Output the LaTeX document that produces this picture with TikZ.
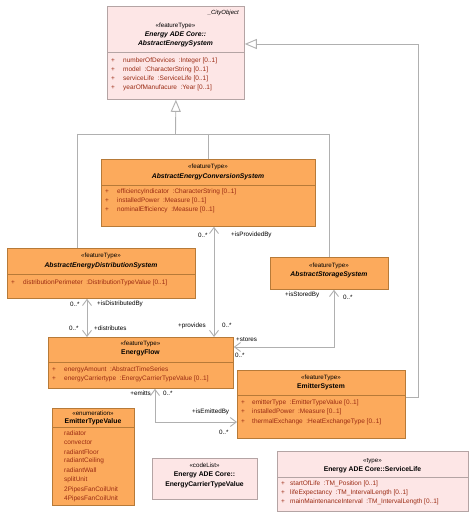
\documentclass[tikz,border=0pt]{standalone}
\usepackage{fontspec}
\setmainfont{Liberation Sans}
\usetikzlibrary{arrows.meta,calc}
\definecolor{pinkfill}{HTML}{FDE6E6}
\definecolor{pinkline}{HTML}{B4A4A4}
\definecolor{orfill}{HTML}{FCAA5C}
\definecolor{orline}{HTML}{B77A38}
\definecolor{attrcol}{HTML}{9A2A12}
\definecolor{conncol}{HTML}{B0B0B0}
\begin{document}
\begin{tikzpicture}[x=1pt,y=-1pt,
  pinkbox/.style={draw=pinkline, fill=pinkfill, line width=0.8pt, inner sep=0, anchor=north west},
  orbox/.style={draw=orline, fill=orfill, line width=0.8pt, inner sep=0, anchor=north west},
  pinkdiv/.style={draw=pinkline, line width=0.7pt},
  ordiv/.style={draw=orline, line width=0.7pt},
  stereo/.style={font=\fontsize{6.2}{7}\selectfont, inner sep=0},
  cname/.style={font=\fontsize{6.8}{8}\selectfont\bfseries, inner sep=0},
  aname/.style={font=\fontsize{6.8}{8}\selectfont\bfseries\itshape, inner sep=0},
  attr/.style={font=\fontsize{6.5}{7}\selectfont, text=attrcol, anchor=west, inner sep=0},
  lbl/.style={font=\fontsize{6.3}{7}\selectfont, inner sep=0},
  conn/.style={draw=conncol, line width=0.9pt},
  gen/.style={conn, {Triangle[open, length=12pt, width=10pt, fill=white]}-},
  navboth/.style={conn, {Straight Barb[length=6pt,width=9pt]}-{Straight Barb[length=6pt,width=9pt]}},
]
\useasboundingbox[fill=white] (0,0) rectangle (474,513);

% ---------- boxes ----------
\node[pinkbox, minimum width=137pt, minimum height=93pt] (aes) at (107,6) {};
\draw[pinkdiv] (107,52) -- (244,52);
\node[font=\fontsize{6}{7}\selectfont\itshape, inner sep=0, anchor=east] (aesns) at (239,13) {\_CityObject};
\node[stereo] (aesst) at (175.5,26) {«featureType»};
\node[aname] (aesn1) at (175.5,35) {Energy ADE Core::};
\node[aname] (aesn2) at (175.5,44) {AbstractEnergySystem};
\foreach \y/\t [count=\i] in {61/{numberOfDevices~~:Integer [0..1]},70/{model~~:CharacterString [0..1]},79/{serviceLife~~:ServiceLife [0..1]},88/{yearOfManufacure~~:Year [0..1]}}{
  \node[attr] (aesb\i) at (111,\y) {+};
  \node[attr] (aesa\i) at (123,\y) {\t};
}

\node[orbox, minimum width=214pt, minimum height=67pt] (conv) at (101,159) {};
\draw[ordiv] (101,185) -- (315,185);
\node[stereo] (convst) at (208,167) {«featureType»};
\node[aname] (convn) at (208,177) {AbstractEnergyConversionSystem};
\foreach \y/\t [count=\i] in {192/{efficiencyIndicator~~:CharacterString [0..1]},201/{installedPower~~:Measure [0..1]},210/{nominalEfficiency~~:Measure [0..1]}}{
  \node[attr] (convb\i) at (105,\y) {+};
  \node[attr] (conva\i) at (117,\y) {\t};
}

\node[orbox, minimum width=188pt, minimum height=50pt] (dist) at (7,248) {};
\draw[ordiv] (7,274) -- (195,274);
\node[stereo] (distst) at (101,256) {«featureType»};
\node[aname] (distn) at (101,266) {AbstractEnergyDistributionSystem};
\node[attr] (distb1) at (11,283) {+};
\node[attr] (dista1) at (23,283) {distributionPerimeter~~:DistributionTypeValue [0..1]};

\node[orbox, minimum width=118pt, minimum height=32pt] (stor) at (270,257) {};
\node[stereo] (storst) at (329,266) {«featureType»};
\node[aname] (storn) at (329,275) {AbstractStorageSystem};

\node[orbox, minimum width=185pt, minimum height=51pt] (flow) at (48,337) {};
\draw[ordiv] (48,362) -- (233,362);
\node[stereo] (flowst) at (140.5,344) {«featureType»};
\node[cname] (flown) at (140.5,353) {EnergyFlow};
\foreach \y/\t [count=\i] in {370/{energyAmount~~:AbstractTimeSeries},379/{energyCarriertype~~:EnergyCarrierTypeValue [0..1]}}{
  \node[attr] (flowb\i) at (52,\y) {+};
  \node[attr] (flowa\i) at (64,\y) {\t};
}

\node[orbox, minimum width=168pt, minimum height=68pt] (emit) at (237,370) {};
\draw[ordiv] (237,395) -- (405,395);
\node[stereo] (emitst) at (321,378) {«featureType»};
\node[cname] (emitn) at (321,387) {EmitterSystem};
\foreach \y/\t [count=\i] in {403/{emitterType~~:EmitterTypeValue [0..1]},412/{installedPower~~:Measure [0..1]},422/{thermalExchange~~:HeatExchangeType [0..1]}}{
  \node[attr] (emitb\i) at (241,\y) {+};
  \node[attr] (emita\i) at (252,\y) {\t};
}

\node[orbox, minimum width=82pt, minimum height=97pt] (enum) at (52,408) {};
\draw[ordiv] (52,427) -- (134,427);
\node[stereo] (enumst) at (93,413.5) {«enumeration»};
\node[cname] (enumn) at (93,421.5) {EmitterTypeValue};
\foreach \y/\t [count=\i] in {433/radiator,442.4/convector,451.8/radiantFloor,461.2/radiantCeiling,470.6/radiantWall,480/splitUnit,489.4/2PipesFanCoilUnit,498.8/4PipesFanCoilUnit}{
  \node[attr] (enuml\i) at (64,\y) {\t};
}

\node[pinkbox, minimum width=105pt, minimum height=41pt] (code) at (152,458) {};
\node[stereo] (codest) at (204.5,465) {«codeList»};
\node[cname] (coden1) at (204.5,474.5) {Energy ADE Core::};
\node[cname] (coden2) at (204.5,484.5) {EnergyCarrierTypeValue};

\node[pinkbox, minimum width=191pt, minimum height=60pt] (svc) at (277,451) {};
\draw[pinkdiv] (277,477) -- (468,477);
\node[stereo] (svcst) at (372.5,461) {«type»};
\node[cname] (svcn) at (372.5,470) {Energy ADE Core::ServiceLife};
\foreach \y/\t [count=\i] in {484/{startOfLife~~:TM\_Position [0..1]},493/{lifeExpectancy~~:TM\_IntervalLength [0..1]},502/{mainMaintenanceInterval~~:TM\_IntervalLength [0..1]}}{
  \node[attr] (svcb\i) at (281,\y) {+};
  \node[attr] (svca\i) at (290,\y) {\t};
}

% ---------- generalisation tree ----------
\coordinate (trunk) at (175.5,134);
\coordinate (tl) at (77,134);
\coordinate (tr) at (329,134);
\draw[gen] (aes.south) -- (trunk);
\draw[conn] (tl) -- (tr);
\draw[conn] (tl) -- (tl |- dist.north);
\draw[conn] (conv.north |- trunk) -- (conv.north);
\draw[conn] (tr) -- (tr |- stor.north);

% right generalisation (EmitterSystem)
\coordinate (rt) at (418,44);
\coordinate (rc) at (418,397);
\draw[gen] (aes.east |- rt) -- (rt) -- (rc) -- (emit.east |- rc);

% ---------- associations ----------
\coordinate (px) at (214,0);
\draw[navboth] (conv.south -| px) -- (flow.north -| px);
\coordinate (dx) at (87,0);
\draw[navboth] (dist.south -| dx) -- (flow.north -| dx);
\coordinate (sc) at (334,347);
\draw[navboth] (stor.south -| sc) -- (sc) -- (flow.east |- sc);
\coordinate (ec) at (155,422);
\draw[navboth] (flow.south -| ec) -- (ec) -- (emit.west |- ec);

% ---------- labels ----------
\node[lbl, anchor=west] (l1) at (198,235) {0..*};
\node[lbl, anchor=west] (l2) at (231,235) {+isProvidedBy};
\node[lbl, anchor=west] (l3) at (178,326) {+provides};
\node[lbl, anchor=west] (l4) at (222,325) {0..*};
\node[lbl, anchor=west] (l5) at (70,304) {0..*};
\node[lbl, anchor=west] (l6) at (97,304) {+isDistributedBy};
\node[lbl, anchor=west] (l7) at (69,328) {0..*};
\node[lbl, anchor=west] (l8) at (94,328) {+distributes};
\node[lbl, anchor=west] (l9) at (285,295) {+isStoredBy};
\node[lbl, anchor=west] (l10) at (343,297) {0..*};
\node[lbl, anchor=west] (l11) at (236,339) {+stores};
\node[lbl, anchor=west] (l12) at (235,355) {0..*};
\node[lbl, anchor=east] (l13) at (151,393) {+emitts};
\node[lbl, anchor=west] (l14) at (163,393) {0..*};
\node[lbl, anchor=west] (l15) at (192,412) {+isEmittedBy};
\node[lbl, anchor=west] (l16) at (219,432) {0..*};
\end{tikzpicture}
\end{document}
